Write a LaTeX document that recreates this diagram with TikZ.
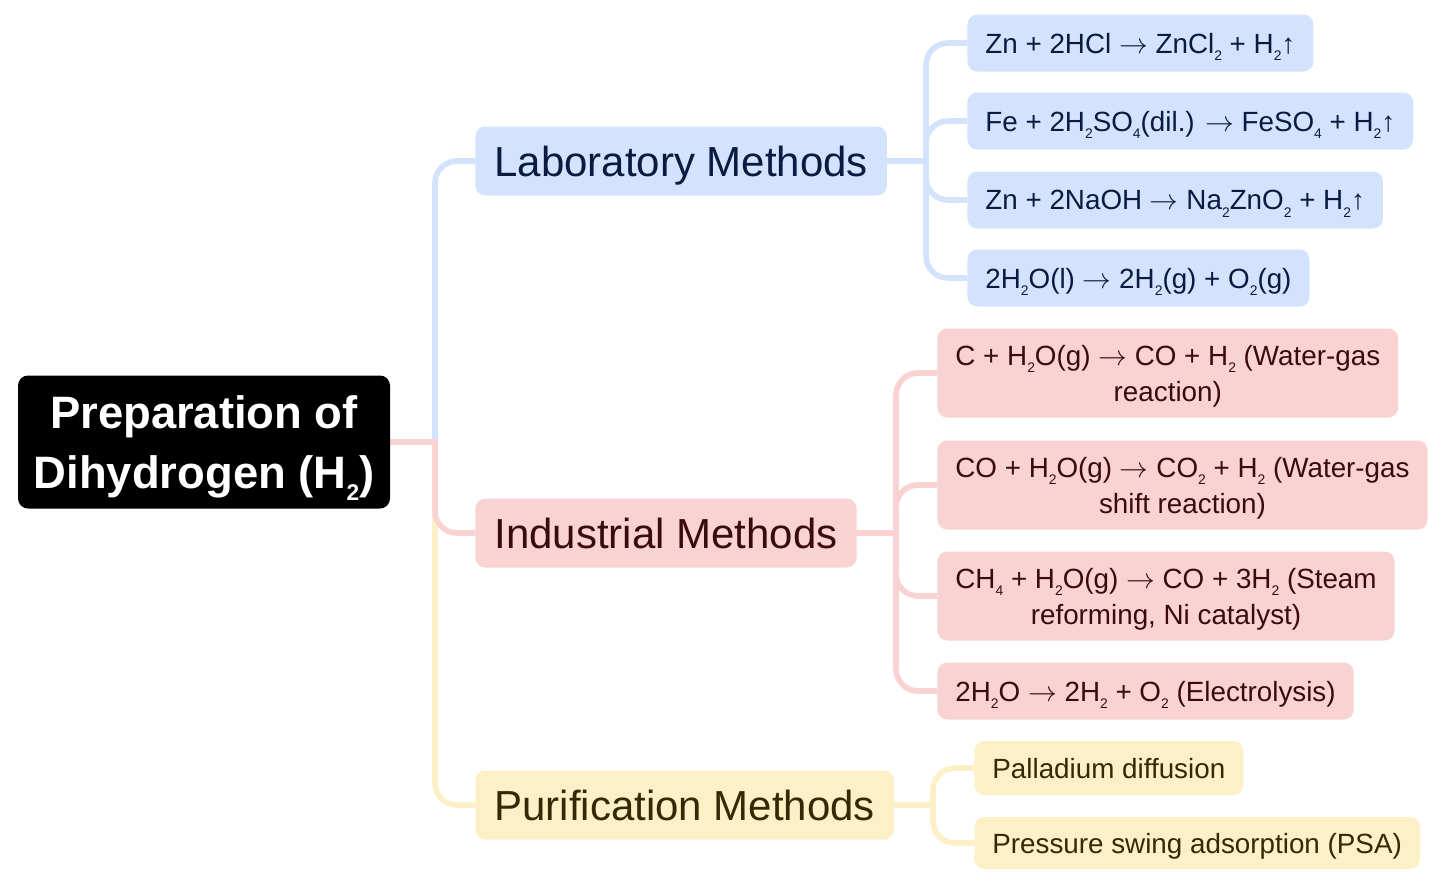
\documentclass[tikz,border=0pt]{standalone}
\usepackage{fontspec}
\setmainfont{Liberation Sans}
\usetikzlibrary{positioning,backgrounds}
\definecolor{labfill}{HTML}{D3E3FD}
\definecolor{labtext}{HTML}{0A1A40}
\definecolor{indfill}{HTML}{F9D3D1}
\definecolor{indtext}{HTML}{3A0B0B}
\definecolor{purfill}{HTML}{FDEFC6}
\definecolor{purtext}{HTML}{362805}
\newcommand*{\dn}[1]{\raisebox{-0.5ex}{\scalebox{0.5}{#1}}}
\newcommand*{\ra}{$\rightarrow$}

\begin{document}
\begin{tikzpicture}[x=0.5pt,y=-0.5pt,
  box/.style={rounded corners=5pt,inner xsep=9pt,inner ysep=2pt,text depth=0pt,align=center},
  rootbox/.style={box,fill=black,text=white,minimum width=186pt,minimum height=66.5pt,
    inner xsep=3pt,font=\fontsize{22.7}{30}\selectfont\bfseries},
  branch/.style={box,anchor=west,minimum height=34.5pt,inner xsep=9.5pt,font=\fontsize{21}{25}\selectfont},
  leaf/.style={box,anchor=west,minimum height=28.5pt,font=\fontsize{13.9}{18}\selectfont},
  labbox/.style={fill=labfill,text=labtext},
  indbox/.style={fill=indfill,text=indtext},
  purbox/.style={fill=purfill,text=purtext},
  link/.style={line width=2.8pt,rounded corners=11pt},
  stub/.style={line width=2.8pt,line cap=rect}]
\useasboundingbox (0,0) rectangle (1444,885);

% Root and the three branches
\node[rootbox] (root) at (204,442) {Preparation of\\Dihydrogen (H\dn{2})};
\node[branch,labbox] (lab) at (475,161) {Laboratory Methods};
\node[branch,indbox] (ind) at (475,533) {Industrial Methods};
\node[branch,purbox] (pur) at (475,805) {Purification Methods};

% Laboratory leaves
\node[leaf,labbox] (l1) at (967,43) {Zn + 2HCl \ra{} ZnCl\dn{2} + H\dn{2}↑};
\node[leaf,labbox] (l2) at (967,121) {Fe + 2H\dn{2}SO\dn{4}(dil.) \ra{} FeSO\dn{4} + H\dn{2}↑};
\node[leaf,labbox] (l3) at (967,200) {Zn + 2NaOH \ra{} Na\dn{2}ZnO\dn{2} + H\dn{2}↑};
\node[leaf,labbox] (l4) at (967,278) {2H\dn{2}O(l) \ra{} 2H\dn{2}(g) + O\dn{2}(g)};

% Industrial leaves
\node[leaf,indbox,minimum height=44.5pt] (i1) at (937,373) {C + H\dn{2}O(g) \ra{} CO + H\dn{2} (Water-gas\\reaction)};
\node[leaf,indbox,minimum height=44.5pt] (i2) at (937,485) {CO + H\dn{2}O(g) \ra{} CO\dn{2} + H\dn{2} (Water-gas\\shift reaction)};
\node[leaf,indbox,minimum height=44.5pt] (i3) at (937,596) {CH\dn{4} + H\dn{2}O(g) \ra{} CO + 3H\dn{2} (Steam\\reforming, Ni catalyst)};
\node[leaf,indbox] (i4) at (937,691) {2H\dn{2}O \ra{} 2H\dn{2} + O\dn{2} (Electrolysis)};

% Purification leaves
\node[leaf,purbox,minimum height=27pt] (p1) at (974,768) {Palladium diffusion};
\node[leaf,purbox,minimum height=26pt] (p2) at (974,843) {Pressure swing adsorption (PSA)};

\begin{scope}[on background layer]
% Draw root trunk
\coordinate (rj) at (435,442);
\draw[link,labfill] (rj) |- (lab.west);
\draw[link,purfill] (rj) |- (pur.west);
\draw[link,indfill] (rj) |- (ind.west);
\draw[stub,indfill] (root.east) -- (rj);

% Draw laboratory links
\coordinate (lj) at (926,161);
\draw[stub,labfill] (lab.east) -- (lj);
\foreach \n in {l1,l2,l3,l4} \draw[link,labfill] (lj) |- (\n.west);

% Draw industrial links
\coordinate (ij) at (896,533);
\draw[stub,indfill] (ind.east) -- (ij);
\foreach \n in {i1,i2,i3,i4} \draw[link,indfill] (ij) |- (\n.west);

% Draw purification links
\coordinate (pj) at (933,805);
\draw[stub,purfill] (pur.east) -- (pj);
\foreach \n in {p1,p2} \draw[link,purfill] (pj) |- (\n.west);
\end{scope}
\end{tikzpicture}
\end{document}
